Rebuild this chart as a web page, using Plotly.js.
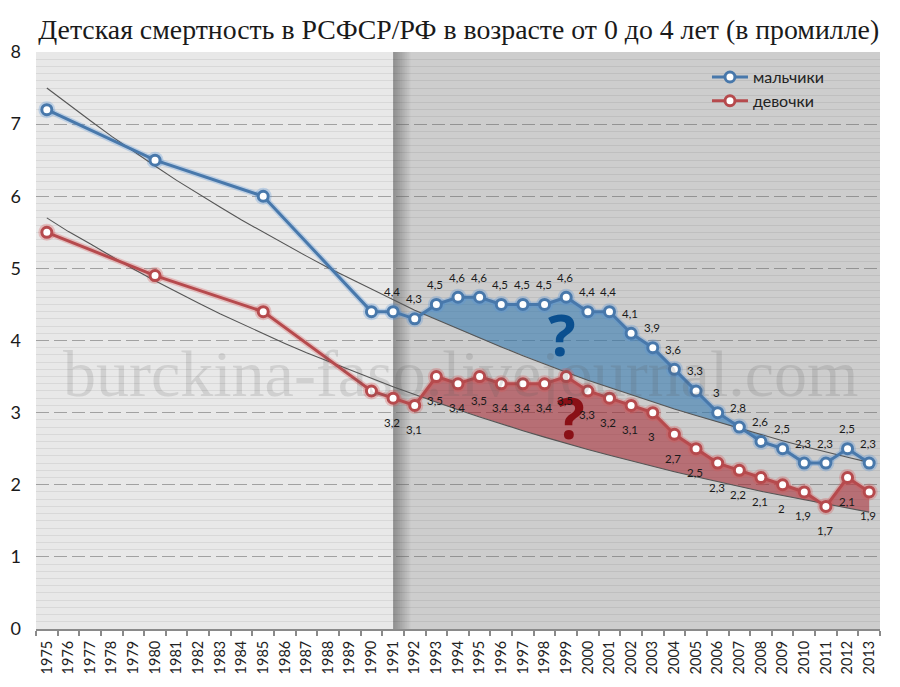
<!DOCTYPE html>
<html><head><meta charset="utf-8">
<script src="https://cdn.plot.ly/plotly-3.0.1.min.js"></script>
<style>html,body{margin:0;padding:0;background:#fff}#c{width:900px;height:687px}</style></head>
<body><div id="c"></div>
<script>
const chartTitle = "Детская смертность в РСФСР/РФ в возрасте от 0 до 4 лет (в промилле)";
const watermark = "burckina-faso.livejournal.com";
const yearsAll = [1975,1976,1977,1978,1979,1980,1981,1982,1983,1984,1985,1986,1987,1988,1989,1990,1991,1992,1993,1994,1995,1996,1997,1998,1999,2000,2001,2002,2003,2004,2005,2006,2007,2008,2009,2010,2011,2012,2013];
const yearsData = [1975,1980,1985,1990,1991,1992,1993,1994,1995,1996,1997,1998,1999,2000,2001,2002,2003,2004,2005,2006,2007,2008,2009,2010,2011,2012,2013];
const boys = [7.2,6.5,6.0,4.4,4.4,4.3,4.5,4.6,4.6,4.5,4.5,4.5,4.6,4.4,4.4,4.1,3.9,3.6,3.3,3,2.8,2.6,2.5,2.3,2.3,2.5,2.3];
const girls = [5.5,4.9,4.4,3.3,3.2,3.1,3.5,3.4,3.5,3.4,3.4,3.4,3.5,3.3,3.2,3.1,3,2.7,2.5,2.3,2.2,2.1,2,1.9,1.7,2.1,1.9];
const boysTrend = [7.5,7.27,7.05,6.83,6.62,6.42,6.22,6.03,5.85,5.67,5.50,5.33,5.17,5.01,4.86,4.71,4.56,4.42,4.29,4.16,4.03,3.91,3.79,3.67,3.56,3.45,3.35,3.24,3.14,3.05,2.96,2.87,2.78,2.69,2.61,2.53,2.45,2.38,2.31];
const girlsTrend = [5.7,5.51,5.34,5.16,4.99,4.83,4.67,4.52,4.37,4.23,4.09,3.96,3.83,3.71,3.59,3.47,3.36,3.25,3.14,3.04,2.94,2.84,2.75,2.66,2.57,2.49,2.41,2.33,2.25,2.18,2.11,2.04,1.97,1.91,1.85,1.79,1.73,1.67,1.62];
const boysCross = {x:1992.4, y:4.37, end:2008};
const girlsCross = {x:1992.3, y:3.22, end:2013};
const firstLabelYear = 1991;

const BLUE='#4878ab', RED='#b64a4d';
const lab = v => String(v).replace('.',',');

function fillPair(series, trend, cross, color){
  const upX=[cross.x], upY=[cross.y], loX=[cross.x], loY=[cross.y];
  yearsData.forEach((yr,i)=>{ if(yr>=1993 && yr<=cross.end){upX.push(yr);upY.push(series[i]);} });
  yearsAll.forEach((yr,i)=>{ if(yr>=1993 && yr<=cross.end){loX.push(yr);loY.push(trend[i]);} });
  return [
   {x:loX,y:loY,mode:'lines',line:{width:0},showlegend:false,hoverinfo:'skip'},
   {x:upX,y:upY,mode:'lines',line:{width:0},fill:'tonexty',fillcolor:color,showlegend:false,hoverinfo:'skip'}
  ];
}
const glow=(y,c)=>({x:yearsData,y:y,mode:'lines+markers',line:{color:c,width:6},marker:{size:17,color:c},showlegend:false,hoverinfo:'skip'});
const series=(y,c,n)=>({x:yearsData,y:y,name:n,legendgroup:n,mode:'lines+markers',line:{color:c,width:3},marker:{size:10,color:'#fff',line:{color:c,width:3}}});
const trend=(y)=>({x:yearsAll,y:y,mode:'lines',line:{color:'#555',width:1.1},showlegend:false,hoverinfo:'skip'});

const data=[
 ...fillPair(boys,boysTrend,boysCross,'rgba(50,120,175,0.58)'),
 ...fillPair(girls,girlsTrend,girlsCross,'rgba(165,35,45,0.55)'),
 glow(boys,'rgba(90,150,215,0.3)'),
 glow(girls,'rgba(215,90,90,0.3)'),
 trend(boysTrend),trend(girlsTrend),
 series(boys,BLUE,'мальчики'),
 series(girls,RED,'девочки')
];

const ann=[];
ann.push({x:1994.1,y:3.54,xref:'x',yref:'y',text:watermark,showarrow:false,font:{family:'"Liberation Serif", serif',size:66,color:'rgba(90,90,90,0.17)'}});
ann.push({x:1998.8,y:4.1,xref:'x',yref:'y',text:'?',showarrow:false,font:{family:'"Liberation Sans Narrow", "Open Sans", sans-serif',size:58,color:'#0a4f8f',weight:700}});
ann.push({x:1999.2,y:2.95,xref:'x',yref:'y',text:'?',showarrow:false,font:{family:'"Liberation Sans Narrow", "Open Sans", sans-serif',size:58,color:'#8a1016',weight:700}});
yearsData.forEach((yr,i)=>{
  if(yr<firstLabelYear) return;
  const base={x:yr,xref:'x',yref:'y',showarrow:false,xshift:-1,font:{family:'Lato, "Noto Sans", sans-serif',size:11.5,color:'#1a1a1a'}};
  ann.push({...base,y:boys[i],text:lab(boys[i]),yshift:20});
  ann.push({...base,y:girls[i],text:lab(girls[i]),yshift:-24});
});

const shapes=[
 {type:'rect',layer:'below',xref:'x',yref:'paper',x0:1974.5,x1:1991,y0:0,y1:1,line:{width:0},fillcolor:'#e8e8e8'},
 {type:'rect',layer:'below',xref:'x',yref:'paper',x0:1991,x1:2013.5,y0:0,y1:1,line:{width:0},fillcolor:'#cdcdcd'}
];
const shadeSteps=[0,0.08,0.16,0.24,0.32,0.4,0.48,0.56,0.64,0.72];
shadeSteps.forEach(s=>shapes.push({type:'rect',layer:'below',xref:'x',yref:'paper',x0:1991,x1:1991+s+0.08,y0:0,y1:1,line:{width:0},fillcolor:'rgba(0,0,0,0.03)'}));

const layout={
 width:900,height:687,paper_bgcolor:'#fff',plot_bgcolor:'#fff',
 margin:{l:36,r:20,t:52,b:58},
 title:{text:chartTitle,x:0.0425,xanchor:'left',y:0.957,yanchor:'middle',font:{family:'"Liberation Serif", serif',size:27.8,color:'#1a1a1a'}},
 xaxis:{type:'linear',range:[1974.5,2013.5],tickmode:'linear',tick0:1975,dtick:1,ticks:'',tickangle:-90,ticklabelstandoff:4,
   tickfont:{family:'Lato, "Noto Sans", sans-serif',size:14.5,color:'#222'},showgrid:false,zeroline:false,showline:true,linecolor:'#8a8a8a',linewidth:2,
   minor:{tick0:1974.5,dtick:1,ticks:'outside',ticklen:5,tickwidth:2,tickcolor:'#8a8a8a',showgrid:false}},
 yaxis:{range:[0,8],tickmode:'linear',tick0:0,dtick:1,ticklabelstandoff:14,tickfont:{family:'Lato, "Noto Sans", sans-serif',size:18,color:'#1a1a1a'},
   ticks:'',ticklen:0,zeroline:false,showline:false,showgrid:true,gridcolor:'rgba(90,90,90,0.5)',griddash:'13px,5px',gridwidth:1,
   minor:{dtick:0.1,showgrid:true,griddash:'solid',gridcolor:'rgba(0,0,0,0.065)',gridwidth:1,ticks:''}},
 legend:{x:0.795,y:0.986,xanchor:'left',yanchor:'top',traceorder:'normal',itemwidth:36,bgcolor:'rgba(0,0,0,0)',borderwidth:0,tracegroupgap:5,font:{family:'Lato, "Noto Sans", sans-serif',size:16,color:'#222'}},
 shapes:shapes,annotations:ann,showlegend:true,hovermode:false
};
Plotly.newPlot('c',data,layout,{displayModeBar:false,staticPlot:true});
</script></body></html>
